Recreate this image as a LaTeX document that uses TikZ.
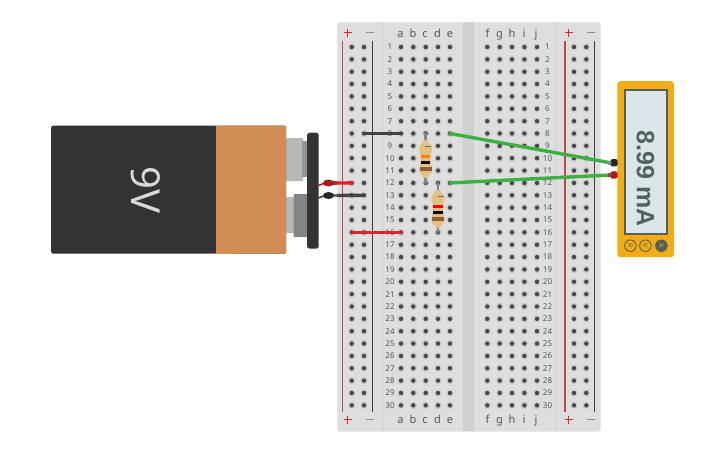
\documentclass[tikz,border=0pt]{standalone}
\usepackage{fontspec}
\usetikzlibrary{shapes.geometric}
\setmainfont{Noto Sans}
\newfontfamily\meterfont{Liberation Sans}
\definecolor{boardbg}{HTML}{DEDEDE}
\definecolor{boardline}{HTML}{CDCDCD}
\definecolor{groove}{HTML}{D0D0D0}
\definecolor{railred}{HTML}{BE4A4A}
\definecolor{railblack}{HTML}{3C3C3C}
\definecolor{wirered}{HTML}{E0232B}
\definecolor{wireblack}{HTML}{3F4347}
\definecolor{wiregreen}{HTML}{3DB044}
\definecolor{cliprED}{HTML}{B01818}
\definecolor{bodytan}{HTML}{E3C083}
\definecolor{orangecap}{HTML}{D18E54}
\definecolor{batdark}{HTML}{333333}
\definecolor{meterbg}{HTML}{F2AD14}
\definecolor{screenbg}{HTML}{DCE6EA}
\definecolor{screenline}{HTML}{545F5F}
\definecolor{txtgray}{HTML}{555555}
\tikzset{
  halo/.style={circle,fill=black!20,minimum size=7.4pt,inner sep=0pt,draw=none},
  holedot/.style={circle,fill=black!72,minimum size=4.4pt,inner sep=0pt},
  rownum/.style={font=\fontsize{8}{9}\selectfont,text=txtgray,inner sep=0pt},
  collabel/.style={font=\fontsize{11}{12}\selectfont,text=txtgray,inner sep=0pt,anchor=base},
  railmark/.style={line width=1.3pt,line cap=butt},
  wire/.style={line width=3.4pt,line cap=round},
  lead/.style={line width=2.8pt,color=black!48,line cap=round},
  clipwire/.style={line width=1.5pt},
  meterbtn/.style={circle,minimum size=11.5pt,inner sep=0pt,line width=.9pt,draw=screenline,font=\fontsize{6.5}{7}\selectfont\bfseries,text=screenline},
  pics/resbody/.style n args={3}{code={
    \fill[bodytan] (-2,-19) .. controls (-2.5,-15) and (-6.5,-15) .. (-6.5,-11)
      -- (-6.5,-10) .. controls (-6.5,-6) and (-5,-6) .. (-5,-3)
      -- (-5,3) .. controls (-5,6) and (-6.5,6) .. (-6.5,10)
      -- (-6.5,11) .. controls (-6.5,15) and (-2.5,15) .. (-2,19)
      -- (2,19) .. controls (2.5,15) and (6.5,15) .. (6.5,11)
      -- (6.5,10) .. controls (6.5,6) and (5,6) .. (5,3)
      -- (5,-3) .. controls (5,-6) and (6.5,-6) .. (6.5,-10)
      -- (6.5,-11) .. controls (6.5,-15) and (2.5,-15) .. (2,-19) -- cycle;
    \fill[#1] (-5.5,-13) rectangle (-0.5,-11.8);
    \fill[black!55] (-0.5,-12.8) rectangle (5.5,-12);
    \fill[#2] (-4.6,-4) rectangle (4.6,-0.6);
    \fill[black] (-4.6,2) rectangle (4.6,5.4);
    \fill[#3] (-5.8,8.2) rectangle (5.8,11.6);
  }}
}
\begin{document}
\begin{tikzpicture}[x=1pt,y=-1pt]
\useasboundingbox (0,0) rectangle (725,453);
% battery
\fill[black!28,rounded corners=1pt] (286,138) rectangle (303,181);
\fill[black!42] (302,141) rectangle (308,177);
\fill[black!28,rounded corners=1pt] (286,197) rectangle (296,233);
\fill[black!48,rounded corners=1pt] (293.5,194) rectangle (308,237);
\node[draw=none,fill=batdark,rounded corners=2pt,minimum width=235pt,minimum height=128pt,inner sep=0pt,anchor=north west] (battery) at (51,125.5) {};
\fill[orangecap,rounded corners=2pt] (225,125.5) rectangle (286,253.5);
\fill[orangecap] (216,125.5) rectangle (235,253.5);
\node[rotate=-90,text=black!15,font=\fontsize{40}{44}\selectfont,inner sep=0pt] (label9v) at (146,190) {9V};
\node[fill=batdark,rounded corners=2.5pt,minimum width=11.5pt,minimum height=116pt,inner sep=0pt,anchor=north west] (plate) at (307,132.5) {};
% board
\node[fill=boardbg,rounded corners=2.5pt,minimum width=263pt,minimum height=409pt,inner sep=0pt,anchor=north west,draw=black!10,line width=.5pt] (board) at (337,22) {};
\fill[groove] (463,22.3) rectangle (473.5,430.7);
\draw[boardline,line width=.8pt] (382,22.3) -- (382,430.7) (555,22.3) -- (555,430.7);
% rails
\coordinate (rla) at (342.7,41);\coordinate (rlb) at (342.7,412);
\coordinate (bla) at (372.5,41);\coordinate (blb) at (372.5,412);
\coordinate (rra) at (565,41);\coordinate (rrb) at (565,412);
\coordinate (bra) at (594.7,41);\coordinate (brb) at (594.7,412);
\draw[railred,railmark] (rla) -- (rlb);
\draw[railred,railmark] (rra) -- (rrb);
\draw[railblack,railmark] (bla) -- (blb);
\draw[railblack,railmark] (bra) -- (brb);
% +/- marks
\foreach \x/\y in {347.5/32.5,347.5/419.5,568.5/32.5,568.5/419.5}
  \draw[wirered,line width=1.2pt] (\x-4,\y) -- (\x+4,\y) (\x,\y-4) -- (\x,\y+4);
\foreach \x/\y in {369.5/32.5,369.5/419.5,590.5/32.5,590.5/419.5}
  \draw[black!45,line width=1.5pt] (\x-4,\y) -- (\x+4,\y);
% holes
\foreach \n/\x in {p/351.7,m/364,a/401,b/413.3,c/425.7,d/438,e/450,f/487.3,g/499.7,h/512,i/524.4,j/537,q/574,r/586.3}{
  \foreach \r in {1,...,30}{
    \pgfmathsetmacro{\yy}{47+(\r-1)*12.357}
    \node[halo] at (\x,\yy) {};
    \node[holedot] (h-\n-\r) at (\x,\yy) {};
  }
}
% numbers
\foreach \r in {1,...,30}{
  \pgfmathsetmacro{\yy}{47+(\r-1)*12.357}
  \node[rownum] (nl\r) at (390,\yy) {\r};
  \node[rownum] (nr\r) at (547.5,\yy) {\r};
}
% letters
\foreach \l/\x in {a/400.5,b/413,c/425,d/437.5,e/450,f/487.5,g/499.5,h/512,i/524,j/536}{
  \node[collabel] (t\l) at (\x,37) {\l};
  \node[collabel] (u\l) at (\x,423) {\l};
}
% resistors
\draw[lead] (h-c-8.center) -- (h-c-12.center);
\draw[lead] (h-d-12.center) -- (h-d-16.center);
\path (425.7,159) pic {resbody={yellow!60!brown}{orange}{brown!75!black}};
\path (438,209) pic {resbody={yellow!60!brown}{red}{brown!75!black}};
% wires
\coordinate (clipR) at (335,183);
\coordinate (clipB) at (335,195.5);
\draw[wireblack,wire] (h-m-8.center) -- (h-a-8.center);
\draw[wirered,wire] (h-p-16.center) -- (h-a-16.center);
\draw[wirered,wire] (clipR) -- (h-p-12.center);
\draw[wireblack,wire] (clipB) -- (h-m-13.center);
% battery clips
\coordinate (plateR) at (318.5,185.5);
\coordinate (plateB) at (318.5,198);
\draw[cliprED,clipwire] (plateR) .. controls (321,184.5) .. (325,183);
\draw[black!80,clipwire] (plateB) .. controls (321,197) .. (325,195.5);
\fill[black!35!red!60!gray] (332,181.3) rectangle (337,184.7);
\fill[black!55] (332,193.8) rectangle (337,197.2);
\node[ellipse,fill=cliprED,minimum width=11pt,minimum height=7pt,inner sep=0pt] (redclip) at (328.5,183) {};
\node[ellipse,fill=black!85,minimum width=11pt,minimum height=7pt,inner sep=0pt] (blackclip) at (328.5,195.5) {};
% meter
\node[fill=meterbg,rounded corners=3pt,minimum width=56.5pt,minimum height=176pt,inner sep=0pt,anchor=north west] (meter) at (617.2,81) {};
\node[fill=screenbg,draw=screenline,line width=2pt,minimum width=42pt,minimum height=144.5pt,inner sep=0pt,anchor=north west] (screen) at (624.2,88.7) {};
\node[rotate=-90,text=screenline,font=\meterfont\fontsize{25}{30}\selectfont\bfseries,inner sep=0pt] (reading) at (645.5,178.5) {8.99 mA};
\node[meterbtn] (btnR) at (630.4,245.7) {\rotatebox{-90}{R}};
\node[meterbtn] (btnV) at (645.4,245.7) {\rotatebox{-90}{V}};
\node[meterbtn,fill=screenline,text=meterbg] (btnA) at (661.4,245.7) {\rotatebox{-90}{A}};
% meter probes
\coordinate (probeB) at (610,162.7);
\coordinate (probeR) at (610,175);
\fill[black!85,rounded corners=1.5pt] (610.5,159) rectangle (617.5,166.3);
\fill[cliprED,rounded corners=1.5pt] (610.5,171.3) rectangle (617.5,178.7);
\draw[wiregreen,wire] (h-e-8.center) -- (probeB);
\draw[wiregreen,wire] (h-e-12.center) -- (probeR);
\fill[black!45] (608,161) rectangle (611,164.5);
\fill[black!35!red!50!gray] (608,173.3) rectangle (611,176.8);
\end{tikzpicture}
\end{document}
